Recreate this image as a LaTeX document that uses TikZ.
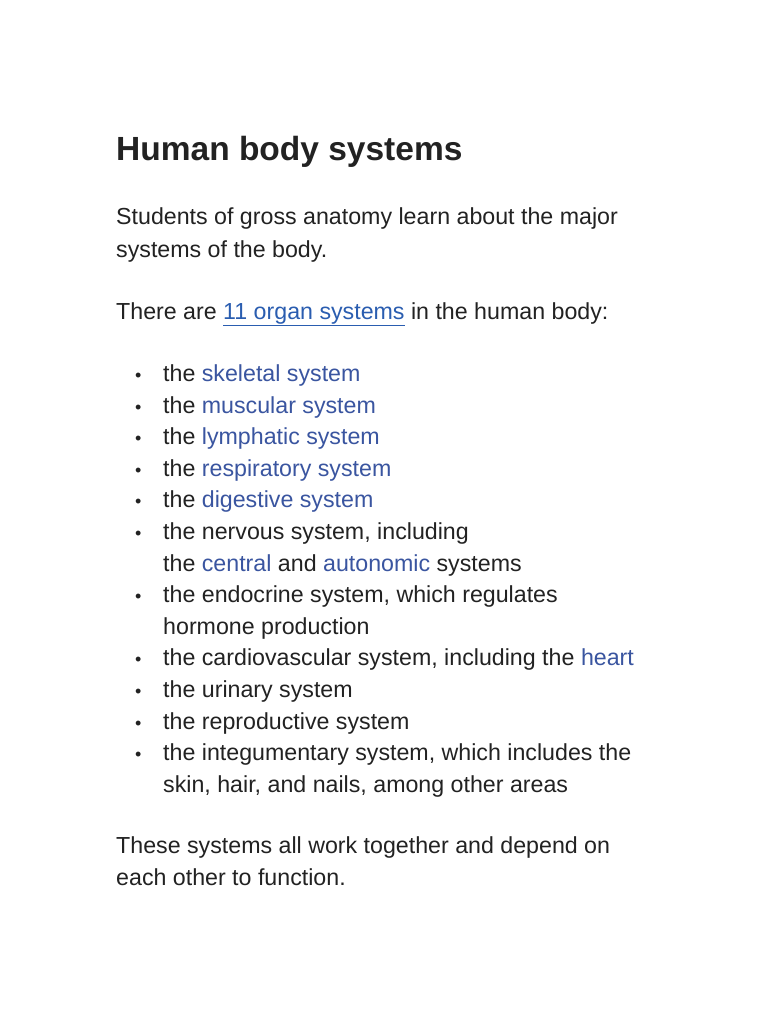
\documentclass[tikz,border=0pt]{standalone}
\usepackage{fontspec}
\setmainfont{Liberation Sans}
\definecolor{txt}{HTML}{222222}
\definecolor{lnk}{HTML}{3A55A0}
\definecolor{ulnk}{HTML}{2A5DB0}
\newcommand{\lk}[1]{\textcolor{lnk}{#1}}
\begin{document}
\begin{tikzpicture}[x=1pt,y=-1pt,
  body/.style={anchor=base west,inner sep=0pt,text=txt,font=\fontsize{23.2}{27}\selectfont},
  ttl/.style={anchor=base west,inner sep=0pt,text=txt,font=\fontsize{33.5}{38}\selectfont\bfseries},
  bul/.style={anchor=base west,inner sep=0pt,text=txt,font=\fontsize{18}{20}\selectfont}]
\useasboundingbox[fill=white] (0,0) rectangle (768,1024);
\node[ttl] (t) at (116,161) {Human body systems};
\node[body] (p1) at (116,225) {Students of gross anatomy learn about the major};
\node[body] (p2) at (116,257) {systems of the body.};
\node[body] (p3) at (116,319) {There are \textcolor{ulnk}{\underline{11 organ systems}} in the human body:};
\foreach \y/\n in {381/1,413/2,444/3,476/4,507/5,539/6,602/7,665/8,697/9,729/10,760/11}
  \node[bul] (b\n) at (135,\y) {•};
\node[body] (l1) at (163,381) {the \lk{skeletal system}};
\node[body] (l2) at (163,413) {the \lk{muscular system}};
\node[body] (l3) at (163,444) {the \lk{lymphatic system}};
\node[body] (l4) at (163,476) {the \lk{respiratory system}};
\node[body] (l5) at (163,507) {the \lk{digestive system}};
\node[body] (l6) at (163,539) {the nervous system, including};
\node[body] (l6b) at (163,571) {the \lk{central} and \lk{autonomic} systems};
\node[body] (l7) at (163,602) {the endocrine system, which regulates};
\node[body] (l7b) at (163,634) {hormone production};
\node[body] (l8) at (163,665) {the cardiovascular system, including the \lk{heart}};
\node[body] (l9) at (163,697) {the urinary system};
\node[body] (l10) at (163,729) {the reproductive system};
\node[body] (l11) at (163,760) {the integumentary system, which includes the};
\node[body] (l11b) at (163,792) {skin, hair, and nails, among other areas};
\node[body] (e1) at (116,853) {These systems all work together and depend on};
\node[body] (e2) at (116,885) {each other to function.};
\end{tikzpicture}
\end{document}
